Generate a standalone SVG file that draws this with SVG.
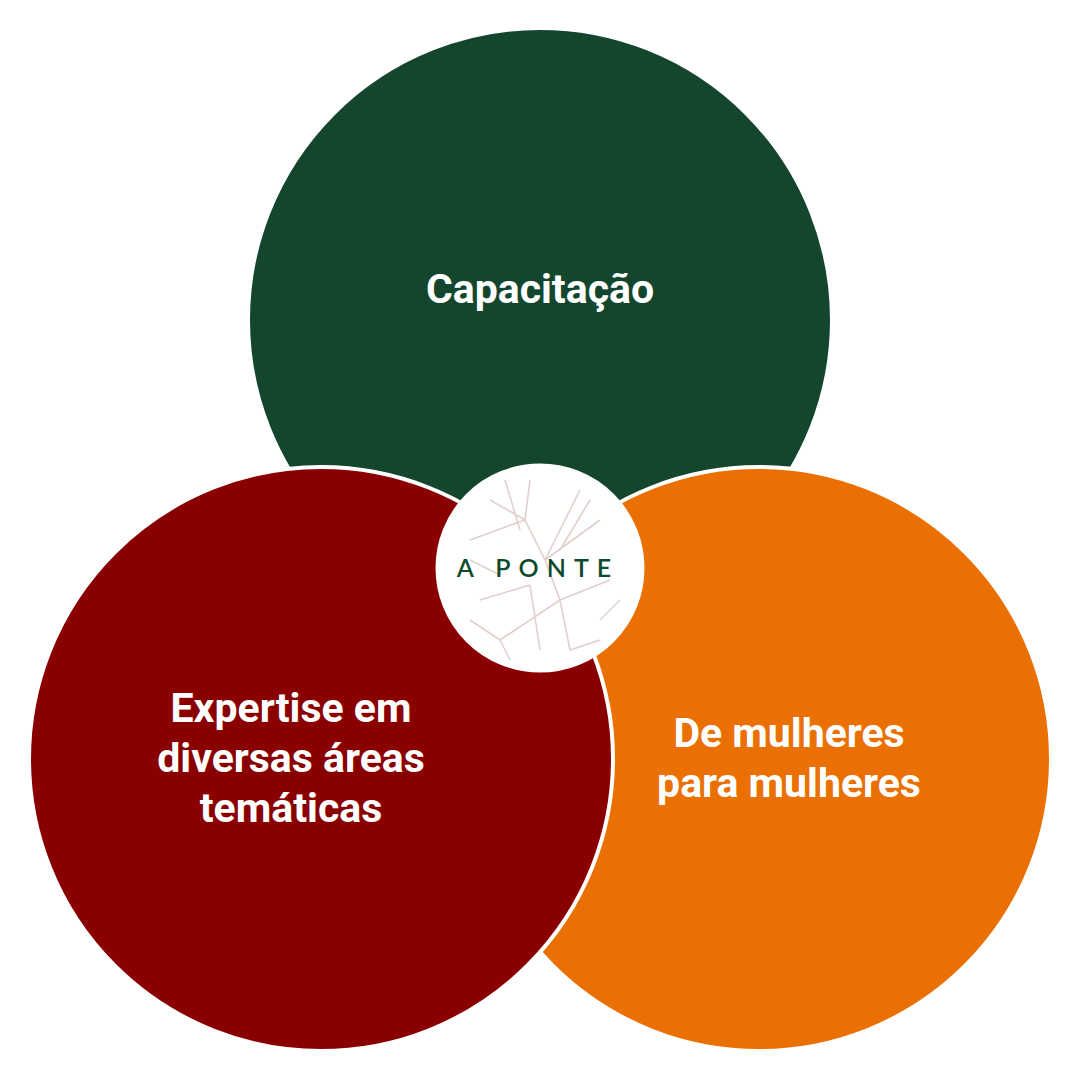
<svg xmlns="http://www.w3.org/2000/svg" width="1080" height="1080" viewBox="0 0 1080 1080">
<style>
.lbl{font-family:Roboto,"Liberation Sans",sans-serif;font-weight:700;font-size:41px;fill:#fff;text-anchor:middle}
.c{stroke:#fff;stroke-width:4}
.br{stroke:#d9c3bf;stroke-width:1.6;fill:none;opacity:.8}
</style>
<rect width="1080" height="1080" fill="#fff"/>
<g id="capacitacao">
<circle class="c" cx="540" cy="320" r="292" fill="#14462e"/>
<text class="lbl" x="540" y="303">Capacitação</text>
</g>
<g id="mulheres">
<circle class="c" cx="759" cy="759" r="292" fill="#ea7003"/>
<text class="lbl" x="789" y="747">De mulheres</text>
<text class="lbl" x="789" y="797">para mulheres</text>
</g>
<g id="expertise">
<circle class="c" cx="321" cy="759" r="292" fill="#8a0000"/>
<text class="lbl" x="291" y="722">Expertise em</text>
<text class="lbl" x="291" y="772">diversas áreas</text>
<text class="lbl" x="291" y="822">temáticas</text>
</g>
<g id="aponte">
<circle cx="540" cy="568" r="103" fill="#fff" stroke="#fff" stroke-width="3"/>
<path class="br" d="M530 480 L525 520 L545 560 L560 600 L570 650 M525 520 L490 500 M525 520 L470 540 M545 560 L600 520 M545 560 L580 490 M560 600 L610 580 M560 600 L500 640 M500 640 L470 620 M500 640 L510 660 M570 650 L600 640 M505 480 L520 530 M590 500 L560 550 M480 600 L530 585 M530 585 L540 650 M470 560 L500 575 M600 620 L620 600"/>
<text x="538" y="577" font-family="Lato,'Open Sans','Liberation Sans',sans-serif" font-size="25" font-weight="600" fill="#0f4a2c" text-anchor="middle" letter-spacing="8">A PONTE</text>
</g>
</svg>
